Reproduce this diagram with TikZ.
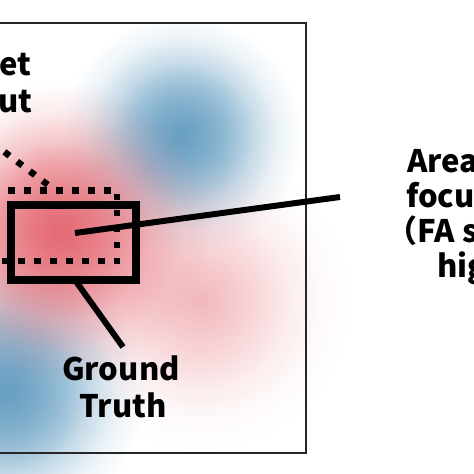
\documentclass[tikz,border=0pt]{standalone}
\usepackage{fontspec}
\newfontfamily\jpfont{Noto Sans CJK JP}
\usetikzlibrary{fadings,positioning}
\definecolor{blobblue}{RGB}{92,152,190}
\definecolor{blobred}{RGB}{226,96,106}
\tikzfading[name=fuzzy, inner color=transparent!0, outer color=transparent!100]
\newcommand\heatblob[4]{%
  \foreach \s in {1,0.8,0.6}{\fill[#1, path fading=fuzzy, opacity=#4] (#2) circle ({\s*#3});}}
\tikzset{
  lbl/.style={font=\jpfont\bfseries\fontsize{31}{36}\selectfont, inner sep=0pt},
  lead/.style={line width=6pt},
  dots/.style={line width=6.5pt, dash pattern=on 6.5pt off 9.5pt},
}

\begin{document}
\begin{tikzpicture}[x=1pt, y=-1pt]
      \useasboundingbox (0,0) rectangle (474,474);
      % heat map
      \heatblob{blobblue}{5,390}{140}{0.6}
      \heatblob{blobblue}{182,135}{120}{0.58}
      \heatblob{blobred}{200,300}{150}{0.18}
      \heatblob{blobred}{60,232}{150}{0.6}
      \draw[line width=2pt, black!85] (-5,23) rectangle (306,453);
      % boxes
      \draw[dots] (-8,190.5) -- (117,190.5) -- (117,261) -- (-8,261);
      \draw[line width=7.5pt] (11,205) rectangle (136,280);
      \coordinate (gt) at (75,280);
      \coordinate (fa) at (75,233);
      \coordinate (tg) at (52,188);
      % labels
      \node[lbl, anchor=base west] (t1) at (-1,75) {et};
      \node[lbl, anchor=base west] (t2) at (-2,112) {ut};
      \node[lbl, anchor=base] (g1) at (121,380) {Ground};
      \node[lbl, anchor=base] (g2) at (123,417) {Truth};
      \node[lbl, anchor=base west] (a1) at (407,172) {Area};
      \node[lbl, anchor=base west] (a2) at (406,207) {focu};
      \node[lbl, anchor=base west] (a3) at (386,242) {（FA sh};
      \node[lbl, anchor=base west] (a4) at (437,277) {hig};
      \coordinate (ae) at (340,197);
      \coordinate (ge) at (123,347);
      \coordinate (ts) at (-6,144);
      % leaders
      \draw[lead] (fa) -- (ae);
      \draw[lead] (gt) -- (ge);
      \draw[dots, dash phase=3pt] (ts) -- (tg);
\end{tikzpicture}
\end{document}
